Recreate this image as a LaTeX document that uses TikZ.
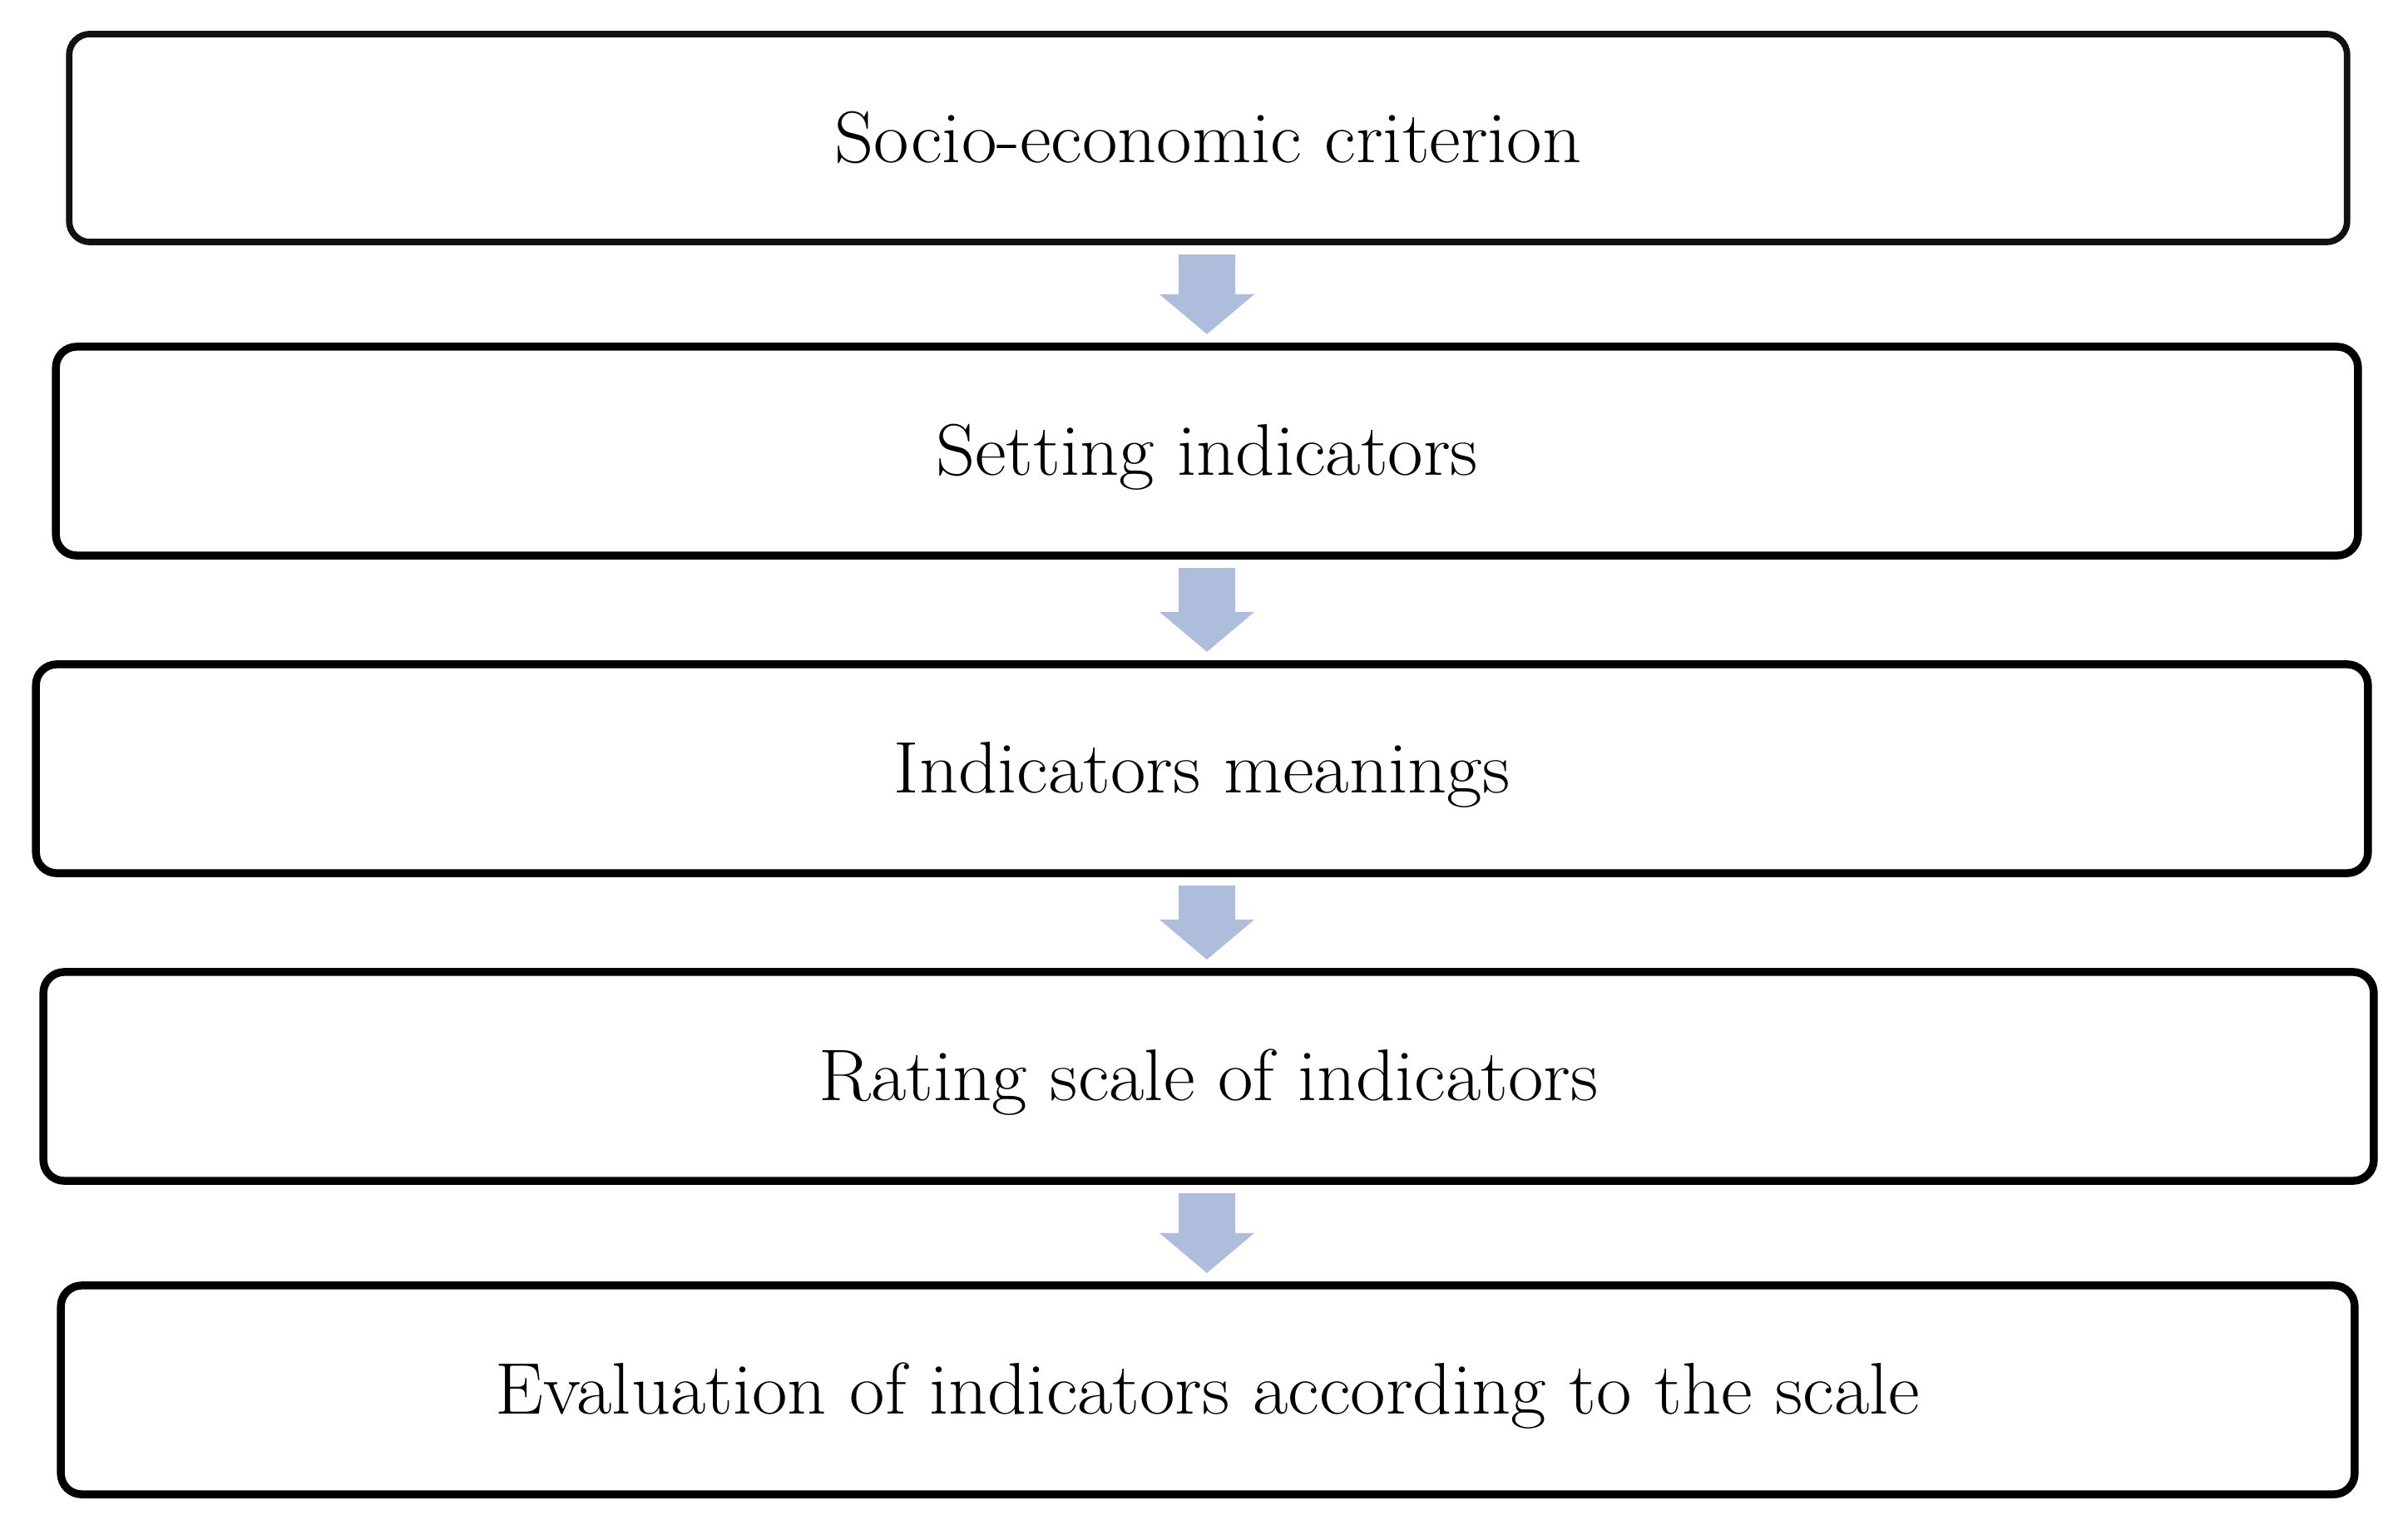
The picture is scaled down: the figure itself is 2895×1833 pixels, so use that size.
\documentclass[tikz,border=0pt]{standalone}
\usepackage{fontspec}
\usetikzlibrary{calc}
\definecolor{arrowblue}{RGB}{175,189,221}
\newcommand\blockarrow[2]{%
  \coordinate (#1top) at ($(mid |- #1.south)+(0,15)$);
  \coordinate (#1tip) at ($(mid |- #2.north)+(0,-15)$);
  \coordinate (#1head) at ($(#1tip)+(0,-48)$);
  \fill[arrowblue] ($(#1top)+(-34,0)$) -- ($(#1top)+(34,0)$) -- ($(#1head)+(34,0)$)
    -- ($(#1head)+(57,0)$) -- (#1tip) -- ($(#1head)+(-57,0)$) -- ($(#1head)+(-34,0)$) -- cycle;}
\newcommand\wide[1]{\scalebox{1.05}[1]{#1}}
\begin{document}
\begin{tikzpicture}[x=0.01cm,y=-0.01cm,
  box/.style={draw=black, line width=2.7pt, rounded corners=0.25cm, outer sep=0pt, inner sep=0pt, minimum height=2.51cm},
  lbl/.style={anchor=base, font=\fontsize{25}{30}\selectfont, inner sep=0pt}]
\useasboundingbox (0,0) rectangle (2895,1833);
\coordinate (mid) at (1451,0);
\node[box, minimum width=27.37cm, minimum height=2.50cm, line width=2.2pt, draw=black!93] (b1) at (1452.5,166) {};
\node[box, minimum width=27.66cm] (b2) at (1451,542.5) {};
\node[box, minimum width=28.02cm] (b3) at (1445,924.5) {};
\node[box, minimum width=28.00cm] (b4) at (1453,1294.5) {};
\node[box, minimum width=27.56cm] (b5) at (1452,1671.5) {};
\node[lbl] (t1) at ($(b1.center)+(0,29)$) {\wide{Socio-economic criterion}};
\node[lbl] (t2) at ($(b2.center)+(0,29)$) {\wide{Setting indicators}};
\node[lbl] (t3) at ($(b3.center)+(0,29)$) {\wide{Indicators meanings}};
\node[lbl] (t4) at ($(b4.center)+(0,29)$) {\wide{Rating scale of indicators}};
\node[lbl] (t5) at ($(b5.center)+(0,29)$) {\wide{Evaluation of indicators according to the scale}};
\blockarrow{b1}{b2}
\blockarrow{b2}{b3}
\blockarrow{b3}{b4}
\blockarrow{b4}{b5}
\end{tikzpicture}
\end{document}
